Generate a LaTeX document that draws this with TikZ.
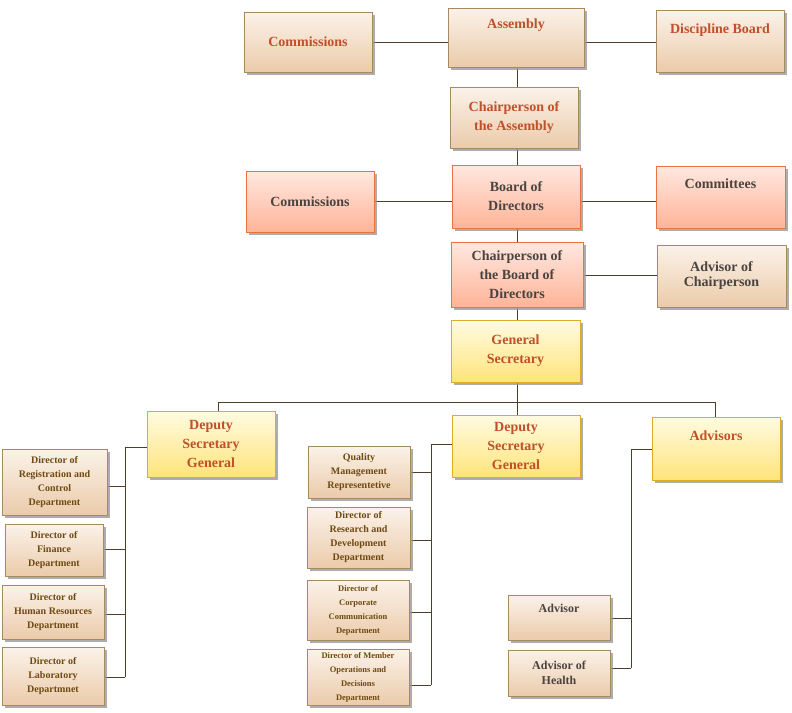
\documentclass[tikz,border=0pt]{standalone}
\usepackage{fontspec}
\setmainfont{Liberation Serif}
\usetikzlibrary{shadows}
\definecolor{tanT}{HTML}{FBF2E9}\definecolor{tanB}{HTML}{EBCBAA}\definecolor{tanD}{HTML}{A88A60}
\definecolor{redT}{HTML}{FFE8E0}\definecolor{redB}{HTML}{FFB498}\definecolor{redD}{HTML}{E8743F}
\definecolor{yelT}{HTML}{FFFBE2}\definecolor{yelB}{HTML}{FFE47A}\definecolor{yelD}{HTML}{DDAE25}
\definecolor{txtO}{HTML}{C0502A}\definecolor{txtG}{HTML}{4A4440}\definecolor{txtB}{HTML}{6E4A12}
\definecolor{lineC}{HTML}{4F3F2A}
\tikzset{
 bx/.style={draw, line width=1pt, align=center, font=\bfseries, inner sep=1pt, drop shadow={shadow xshift=3pt,shadow yshift=-3pt,fill=black!40,opacity=.8}},
 tanbox/.style={bx, draw=tanD, top color=tanT, bottom color=tanB, text=txtO, font=\bfseries\fontsize{14}{19}\selectfont},
 redbox/.style={bx, draw=redD, top color=redT, bottom color=redB, text=txtG, font=\bfseries\fontsize{14}{19}\selectfont},
 yelbox/.style={bx, draw=yelD, top color=yelT, bottom color=yelB, text=txtO, font=\bfseries\fontsize{14}{19}\selectfont},
 deptbox/.style={bx, draw=tanD, top color=tanT, bottom color=tanB, text=txtB, font=\bfseries\fontsize{10}{14}\selectfont},
 advbox/.style={bx, draw=tanD, top color=tanT, bottom color=tanB, text=txtG, font=\bfseries\fontsize{12}{15}\selectfont},
 conn/.style={draw=lineC, line width=0.8pt}
}
\newcommand{\bxat}[6]{\node[#1, minimum width=#4pt-#2pt, minimum height=#5pt-#3pt] (#6) at ({(#2+#4)/2*1pt},{-(#3+#5)/2*1pt})}
\begin{document}
\begin{tikzpicture}[x=1pt,y=-1pt]
\useasboundingbox (0,0) rectangle (792,712);
% connectors first
\draw[conn] (372,42) -- (448,42) (584,42) -- (656,42);
\draw[conn] (517,67) -- (517,165);
\draw[conn] (374,201) -- (452,201) (580,201) -- (656,201);
\draw[conn] (517,228) -- (517,320);
\draw[conn] (583,275) -- (657,275);
\draw[conn] (517,382) -- (517,415) (218,411) -- (218,402) -- (715,402) -- (715,417);
\draw[conn] (147,447) -- (125,447) -- (125,677);
\foreach \y/\r in {486/107,549/103,614/104,677/104} \draw[conn] (\r,\y) -- (125,\y);
\draw[conn] (452,444) -- (431,444) -- (431,685);
\foreach \y in {472,540,612,685} \draw[conn] (410,\y) -- (431,\y);
\draw[conn] (652,449) -- (631,449) -- (631,668);
\draw[conn] (610,618) -- (631,618) (610,668) -- (631,668);
% nodes
\bxat{tanbox}{244}{12}{372}{72}{c1} {Commissions};
\bxat{tanbox}{448}{8}{584}{67}{as} {Assembly\\[8pt]};
\bxat{tanbox}{656}{10}{784}{72}{db} {Discipline Board\\[6pt]};
\bxat{tanbox}{450}{87}{578}{148}{ca} {Chairperson of\\the Assembly};
\bxat{redbox}{246}{171}{374}{232}{c2} {Commissions};
\bxat{redbox}{452}{165}{580}{228}{bd} {Board of\\Directors};
\bxat{redbox}{656}{166}{785}{228}{cm} {Committees\\[8pt]};
\bxat{redbox}{451}{242}{583}{307}{cb} {Chairperson of\\the Board of\\Directors};
\bxat{advbox}{657}{245}{786}{307}{ac} {\fontsize{14}{19}\selectfont Advisor of\\\fontsize{14}{19}\selectfont Chairperson};
\bxat{yelbox}{451}{320}{580}{382}{gs} {General\\Secretary};
\bxat{yelbox}{147}{411}{275}{477}{d1} {Deputy\\Secretary\\General};
\bxat{yelbox}{452}{415}{580}{477}{d2} {Deputy\\Secretary\\General};
\bxat{yelbox}{652}{417}{780}{480}{ad} {Advisors\\[6pt]};
\bxat{deptbox}{2}{449}{107}{515}{l1} {Director of\\Registration and\\Control\\Department};
\bxat{deptbox}{5}{524}{103}{576}{l2} {Director of\\Finance\\Department};
\bxat{deptbox}{2}{585}{104}{639}{l3} {Director of\\Human Resources\\Department};
\bxat{deptbox}{2}{647}{104}{705}{l4} {Director of\\Laboratory\\Departmnet};
\bxat{deptbox}{308}{446}{410}{498}{m1} {Quality\\Management\\Representetive};
\bxat{deptbox}{307}{507}{410}{568}{m2} {Director of\\Research and\\Development\\Department};
\bxat{deptbox}{307}{580}{409}{640}{m3} {\fontsize{8.5}{12}\selectfont Director of\\\fontsize{8.5}{12}\selectfont Corporate\\\fontsize{8.5}{12}\selectfont Communication\\\fontsize{8.5}{12}\selectfont Department};
\bxat{deptbox}{307}{649}{409}{705}{m4} {\fontsize{8.5}{12}\selectfont Director of Member\\\fontsize{8.5}{12}\selectfont Operations and\\\fontsize{8.5}{12}\selectfont Decisions\\\fontsize{8.5}{12}\selectfont Department};
\bxat{advbox}{508}{595}{610}{640}{a1} {Advisor\\[4pt]};
\bxat{advbox}{508}{650}{610}{696}{a2} {Advisor of\\Health};
\end{tikzpicture}
\end{document}
